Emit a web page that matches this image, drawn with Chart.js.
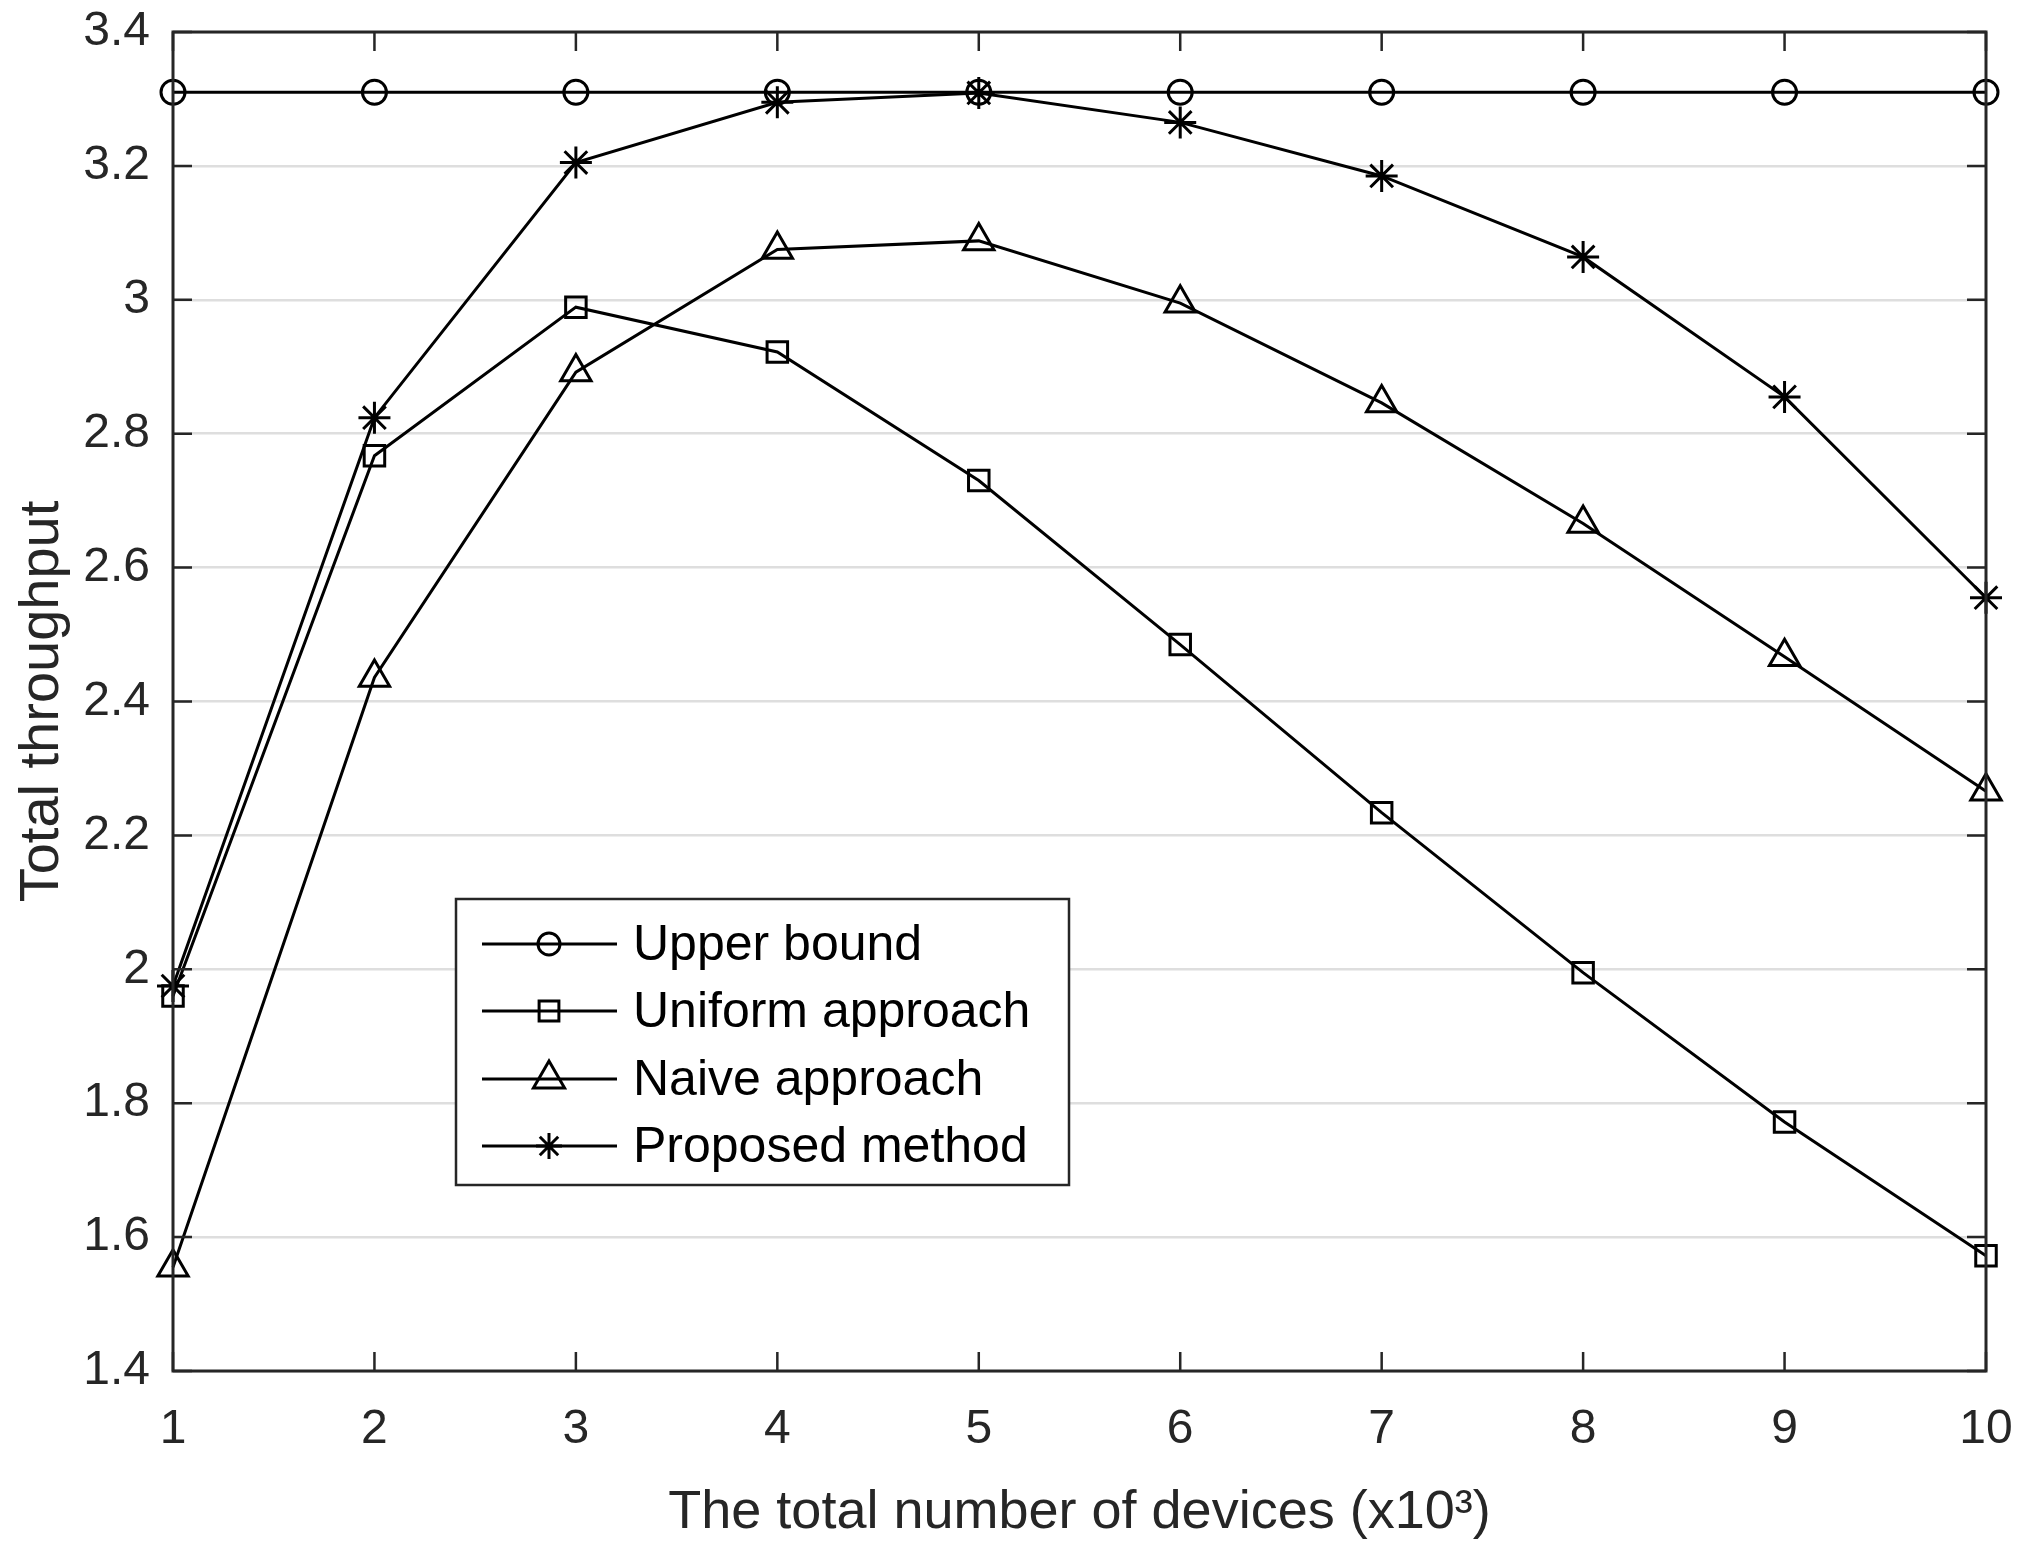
<!DOCTYPE html>
<html>
<head>
<meta charset="utf-8">
<script src="https://cdn.jsdelivr.net/npm/chart.js@4.4.1/dist/chart.umd.min.js"></script>
<style>
    html, body { margin: 0; padding: 0; background: #fff; }
    #chart { display: block; }
</style>
</head>
<body>
<canvas id="chart" width="2026" height="1556"></canvas>
<script>
const xLabels = ['1', '2', '3', '4', '5', '6', '7', '8', '9', '10'];
const yTicks = [1.4, 1.6, 1.8, 2, 2.2, 2.4, 2.6, 2.8, 3, 3.2, 3.4];
const yTickLabels = ['1.4', '1.6', '1.8', '2', '2.2', '2.4', '2.6', '2.8', '3', '3.2', '3.4'];

const seriesNames = ['Upper bound', 'Uniform approach', 'Naive approach', 'Proposed method'];
const upperBound = [3.31, 3.31, 3.31, 3.31, 3.31, 3.31, 3.31, 3.31, 3.31, 3.31];
const uniformApproach = [1.96, 2.767, 2.989, 2.922, 2.73, 2.485, 2.234, 1.995, 1.772, 1.572];
const naiveApproach = [1.555, 2.436, 2.892, 3.075, 3.088, 2.995, 2.846, 2.666, 2.467, 2.266];
const proposedMethod = [1.975, 2.824, 3.205, 3.295, 3.309, 3.265, 3.185, 3.064, 2.855, 2.555];

const fontFamily = '"Liberation Sans", Arial, Helvetica, sans-serif';
const axisColor = '#262626';
const lineW = 3;

// marker style per series (MATLAB: o, s, ^, *)
const markers = [
    { style: 'circle', radius: 12 },
    { style: 'rect', radius: 14.5 },
    { style: 'triangle', radius: 17.5 },
    { style: 'star', radius: 16 },
];

function makeDataset(i, values) {
    return {
        label: seriesNames[i],
        data: values,
        borderColor: '#000',
        borderWidth: lineW,
        backgroundColor: 'transparent',
        pointStyle: markers[i].style,
        pointRadius: markers[i].radius,
        pointHoverRadius: markers[i].radius,
        pointBorderColor: '#000',
        pointBackgroundColor: 'transparent',
        pointBorderWidth: lineW,
        tension: 0,
        clip: false,
    };
}

// box around the plot + inward ticks on all four sides
const boxAndTicks = {
    id: 'boxAndTicks',
    afterDraw(chart) {
        const ctx = chart.ctx;
        const a = chart.chartArea;
        const xs = chart.scales.x;
        const ys = chart.scales.y;
        const tl = 19;
        ctx.save();
        ctx.strokeStyle = axisColor;
        ctx.lineWidth = 2.5;
        ctx.beginPath();
        ys.ticks.forEach(t => {
            const y = ys.getPixelForValue(t.value);
            ctx.moveTo(a.left, y); ctx.lineTo(a.left + tl, y);
            ctx.moveTo(a.right, y); ctx.lineTo(a.right - tl, y);
        });
        xLabels.forEach((l, i) => {
            const x = xs.getPixelForValue(i);
            ctx.moveTo(x, a.bottom); ctx.lineTo(x, a.bottom - tl);
            ctx.moveTo(x, a.top); ctx.lineTo(x, a.top + tl);
        });
        ctx.stroke();
        ctx.lineWidth = 3;
        ctx.strokeRect(a.left, a.top, a.right - a.left, a.bottom - a.top);
        ctx.restore();
    }
};

// legend box inside the plot, like MATLAB
const insideLegend = {
    id: 'insideLegend',
    afterDraw(chart) {
        const ctx = chart.ctx;
        const box = { left: 456, top: 899, right: 1069, bottom: 1185 };
        const rowY = [944, 1011, 1079, 1146];
        const legendRadius = [11, 14, 18, 13];
        ctx.save();
        ctx.fillStyle = '#fff';
        ctx.fillRect(box.left, box.top, box.right - box.left, box.bottom - box.top);
        ctx.strokeStyle = axisColor;
        ctx.lineWidth = 2.5;
        ctx.strokeRect(box.left, box.top, box.right - box.left, box.bottom - box.top);

        chart.data.datasets.forEach((ds, i) => {
            const y = rowY[i];
            ctx.strokeStyle = '#000';
            ctx.lineWidth = lineW;
            ctx.beginPath();
            ctx.moveTo(482, y);
            ctx.lineTo(617, y);
            ctx.stroke();
            ctx.fillStyle = 'rgba(0,0,0,0)';
            Chart.helpers.drawPoint(ctx, {
                pointStyle: ds.pointStyle,
                radius: legendRadius[i],
                rotation: 0,
                borderWidth: lineW,
            }, 549, y);

            ctx.fillStyle = '#000';
            ctx.font = '50px ' + fontFamily;
            ctx.textAlign = 'left';
            ctx.textBaseline = 'middle';
            ctx.fillText(ds.label, 633, y + 2);
        });
        ctx.restore();
    }
};

const ctx = document.getElementById('chart');

new Chart(ctx, {
    type: 'line',
    data: {
        labels: xLabels,
        datasets: [
            makeDataset(0, upperBound),
            makeDataset(1, uniformApproach),
            makeDataset(2, naiveApproach),
            makeDataset(3, proposedMethod),
        ]
    },
    options: {
        responsive: false,
        animation: false,
        devicePixelRatio: 1,
        layout: {
            autoPadding: false,
            padding: { top: 32, right: 40, left: 0, bottom: 0 }
        },
        plugins: {
            legend: { display: false },
            tooltip: { enabled: false },
        },
        scales: {
            x: {
                type: 'category',
                offset: false,
                grid: { display: false, drawTicks: false },
                border: { display: false },
                ticks: {
                    autoSkip: false,
                    maxRotation: 0,
                    padding: 30,
                    color: axisColor,
                    font: { family: fontFamily, size: 48 },
                },
                title: {
                    display: true,
                    text: 'The total number of devices (x10³)',
                    color: axisColor,
                    font: { family: fontFamily, size: 54 },
                    padding: { top: 0, bottom: 10 },
                },
                afterFit(scale) {
                    // fixed plot area, no extra label padding
                    scale.height = 185;
                    scale.paddingLeft = 0;
                    scale.paddingRight = 0;
                },
            },
            y: {
                min: 1.4,
                max: 3.4,
                afterBuildTicks(scale) {
                    scale.ticks = yTicks.map(v => ({ value: v }));
                },
                grid: { color: '#dedede', lineWidth: 2.5, drawTicks: false },
                border: { display: false },
                ticks: {
                    padding: 23,
                    color: axisColor,
                    font: { family: fontFamily, size: 48 },
                    callback: (v) => yTickLabels[yTicks.findIndex(t => Math.abs(t - v) < 1e-6)],
                },
                title: {
                    display: true,
                    text: 'Total throughput',
                    color: axisColor,
                    font: { family: fontFamily, size: 56 },
                    padding: { top: 9, bottom: 0 },
                },
                afterFit(scale) {
                    scale.width = 173;
                    scale.paddingTop = 0;
                    scale.paddingBottom = 0;
                },
            }
        }
    },
    plugins: [boxAndTicks, insideLegend]
});
</script>
</body>
</html>
